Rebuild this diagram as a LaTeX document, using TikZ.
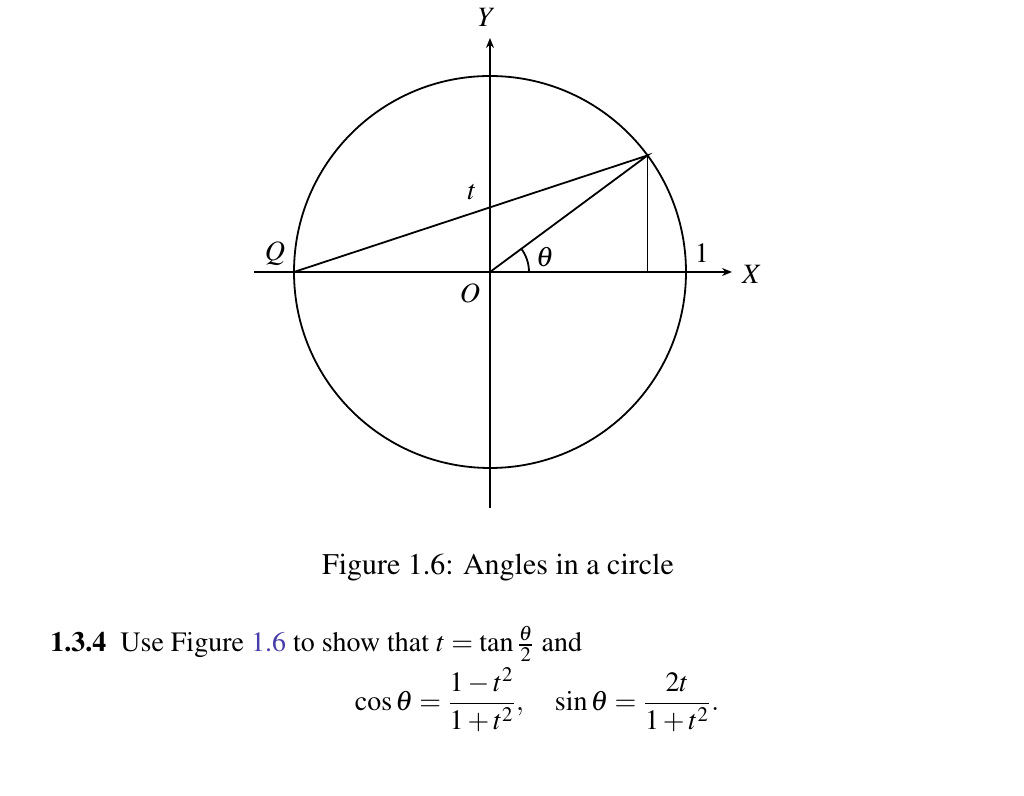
\documentclass[tikz,border=0pt]{standalone}
\usepackage[T1]{fontenc}
\usepackage{mathptmx}
\usepackage{amsmath}
\usepackage{tikz}
\usetikzlibrary{arrows.meta}
\usetikzlibrary{calc}
\definecolor{lienbleu}{RGB}{70,60,170}
\tikzstyle{axe}=[-{Stealth[length=5pt,width=4pt]},line width=0.9pt]
\tikzstyle{trait}=[line width=0.9pt]
\tikzstyle{etiq}=[inner sep=0pt,font=\fontsize{14}{17}\selectfont]
\tikzstyle{texte}=[inner sep=0pt,anchor=base,font=\fontsize{14}{17}\selectfont]

\begin{document}
\begin{tikzpicture}[x=0.5pt,y=0.5pt]
\useasboundingbox (-490,-524) rectangle (534,272);
\coordinate (O) at (0,0);
\coordinate (Q) at (-196,0);
\coordinate (P) at (36.5:196);
\coordinate (H) at (P |- O);
\coordinate (xg) at (-236,0);
\coordinate (xd) at (242,0);
\coordinate (yb) at (0,-236);
\coordinate (yh) at (0,234);
%axes et cercle
\draw[axe] (xg) -- (xd);
\draw[axe] (yb) -- (yh);
\draw[trait] (O) circle (196);
\draw[trait] (Q) -- (P) -- (O);
\draw[trait] (P) -- (H);
\draw[trait] (39,0) arc (0:36.5:39);
%etiquettes
\node[etiq] (lY) at (-3,255) {$Y$};
\node[etiq] (lX) at (262,-2) {$X$};
\node[etiq] (lQ) at (-215,18) {$Q$};
\node[etiq] (lO) at (-20,-21) {$O$};
\node[etiq] (lt) at (-18,80) {$t$};
\node[etiq] (lth) at (55,15) {$\theta$};
\node[etiq] (lun) at (212,19) {$1$};
%texte
\node[texte,font=\fontsize{15}{18}\selectfont] (legende) at (8,-303) {Figure 1.6: Angles in a circle};
\node[texte,anchor=base west] (enonce) at (-440,-380) {\textbf{1.3.4}\enspace Use Figure \textcolor{lienbleu}{1.6} to show that $t=\tan\frac{\theta}{2}$ and};
\node[etiq] (formule) at (47,-428) {$\displaystyle\cos\theta=\frac{1-t^2}{1+t^2},\quad\sin\theta=\frac{2t}{1+t^2}.$};
\end{tikzpicture}
\end{document}
